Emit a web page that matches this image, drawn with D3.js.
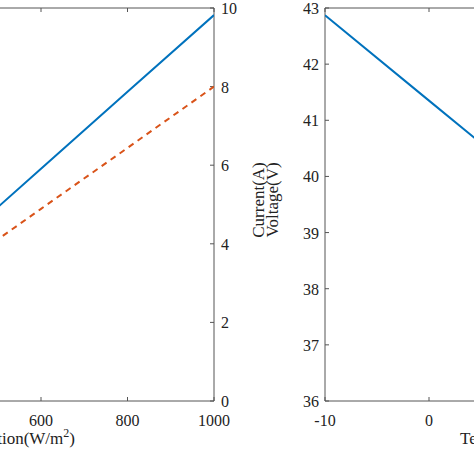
<!DOCTYPE html>
<html><head><meta charset="utf-8">
<script src="https://cdn.jsdelivr.net/npm/d3@7"></script>
<style>body{margin:0;background:#fff}text{font-family:"Liberation Serif","Times New Roman",serif;fill:#222}</style>
</head><body><script>
// left panel: irradiance vs current
const irr = [200, 400, 600, 800, 1000];
const curA = [2.0, 3.95, 5.91, 7.87, 9.82];
const curB = [1.78, 3.33, 4.89, 6.44, 8.0];
const leftTicksX = [600, 800, 1000];
const leftTicksY = [0, 2, 4, 6, 8, 10];
// right panel: temperature vs voltage
const temp = [-10, 0, 10, 25];
const volt = [42.87, 41.35, 39.83, 37.55];
const rightTicksX = [-10, 0];
const rightTicksY = [36, 37, 38, 39, 40, 41, 42, 43];

const svg = d3.select('body').append('svg').attr('width', 474).attr('height', 474);
const yTop = 8, yBot = 401;
const axisCol = '#555';

// left panel
const xL = d3.scaleLinear().domain([600, 1000]).range([41, 214]);
const yL = d3.scaleLinear().domain([0, 10]).range([yBot, yTop]);
svg.append('clipPath').attr('id', 'cl').append('rect').attr('x', 0).attr('y', yTop).attr('width', 214).attr('height', yBot - yTop);
const gl = svg.append('g');
gl.append('path').attr('d', `M-5,${yTop}H214V${yBot}H-5`).attr('fill', 'none').attr('stroke', axisCol);
leftTicksX.forEach(t => {
  gl.append('line').attr('x1', xL(t)).attr('x2', xL(t)).attr('y1', yBot).attr('y2', yBot - 4).attr('stroke', axisCol);
  gl.append('line').attr('x1', xL(t)).attr('x2', xL(t)).attr('y1', yTop).attr('y2', yTop + 4).attr('stroke', axisCol);
  gl.append('text').attr('x', xL(t)).attr('y', yBot + 25).attr('text-anchor', 'middle').attr('font-size', 16).text(t);
});
leftTicksY.forEach(t => {
  gl.append('line').attr('x1', 214).attr('x2', 210).attr('y1', yL(t)).attr('y2', yL(t)).attr('stroke', axisCol);
  gl.append('text').attr('x', 221).attr('y', yL(t) + 6).attr('font-size', 16).text(t);
});
const lineL = d3.line().x((d, i) => xL(irr[i])).y(d => yL(d));
gl.append('path').attr('clip-path', 'url(#cl)').attr('d', lineL(curA)).attr('fill', 'none').attr('stroke', '#0072BD').attr('stroke-width', 2);
gl.append('path').attr('clip-path', 'url(#cl)').attr('d', lineL(curB)).attr('fill', 'none').attr('stroke', '#D95319').attr('stroke-width', 2).attr('stroke-dasharray', '6,5');
gl.append('text').attr('x', 75).attr('y', 444).attr('text-anchor', 'end').attr('font-size', 17)
  .html('Irradiation(W/m<tspan dy="-7" font-size="12">2</tspan><tspan dy="7">)</tspan>');
gl.append('text').attr('transform', 'translate(264,200) rotate(-90)').attr('text-anchor', 'middle').attr('font-size', 17).text('Current(A)');

// right panel
const xR = d3.scaleLinear().domain([-10, 0]).range([325, 429]);
const yR = d3.scaleLinear().domain([36, 43]).range([yBot, yTop]);
svg.append('clipPath').attr('id', 'cr').append('rect').attr('x', 325).attr('y', yTop).attr('width', 149).attr('height', yBot - yTop);
const gr = svg.append('g');
gr.append('path').attr('d', `M480,${yTop}H325V${yBot}H480`).attr('fill', 'none').attr('stroke', axisCol);
rightTicksX.forEach(t => {
  gr.append('line').attr('x1', xR(t)).attr('x2', xR(t)).attr('y1', yBot).attr('y2', yBot - 4).attr('stroke', axisCol);
  gr.append('line').attr('x1', xR(t)).attr('x2', xR(t)).attr('y1', yTop).attr('y2', yTop + 4).attr('stroke', axisCol);
  gr.append('text').attr('x', xR(t)).attr('y', yBot + 25).attr('text-anchor', 'middle').attr('font-size', 16).text(t);
});
rightTicksY.forEach(t => {
  gr.append('line').attr('x1', 325).attr('x2', 329).attr('y1', yR(t)).attr('y2', yR(t)).attr('stroke', axisCol);
  gr.append('text').attr('x', 319).attr('y', yR(t) + 6).attr('text-anchor', 'end').attr('font-size', 16).text(t);
});
const lineR = d3.line().x((d, i) => xR(temp[i])).y(d => yR(d));
gr.append('path').attr('clip-path', 'url(#cr)').attr('d', lineR(volt)).attr('fill', 'none').attr('stroke', '#0072BD').attr('stroke-width', 2);
gr.append('text').attr('x', 460).attr('y', 444).attr('font-size', 17).text('Temperature(°C)');
gr.append('text').attr('transform', 'translate(278,200) rotate(-90)').attr('text-anchor', 'middle').attr('font-size', 17).text('Voltage(V)');
</script></body></html>
